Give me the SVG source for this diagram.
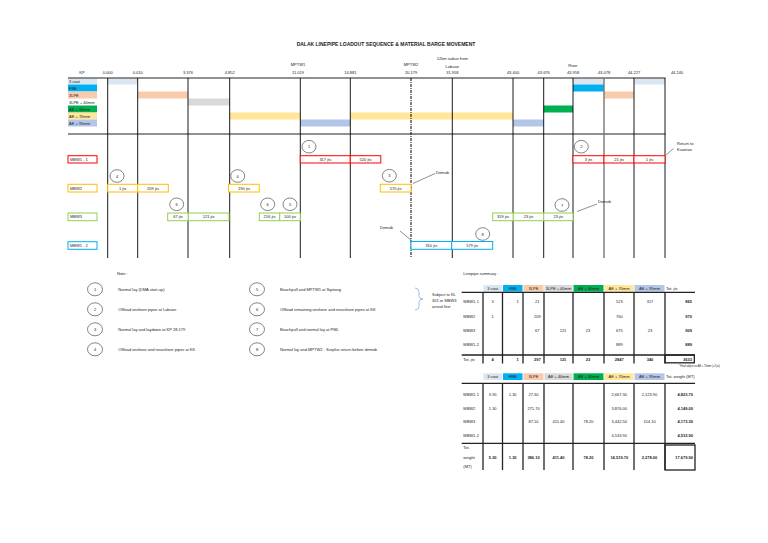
<svg xmlns="http://www.w3.org/2000/svg" width="768" height="543" viewBox="0 0 768 543">
<defs>
<style>
text{font-family:"Liberation Sans",Arial,sans-serif;font-size:4px;fill:#222}
.t{font-size:5px;font-weight:bold;text-anchor:middle}
.c{text-anchor:middle}
.r{text-anchor:end}
.b{font-weight:bold}
.n{font-size:4.2px}
.vl{stroke:#000;stroke-width:0.9}
.hl{stroke:#222;stroke-width:1}
.cir{fill:#fff;stroke:#333;stroke-width:0.6}
.red{fill:#fff;stroke:#ff0000;stroke-width:1}
.yel{fill:#fff;stroke:#ffc000;stroke-width:1}
.grn{fill:#fff;stroke:#92d050;stroke-width:1}
.cya{fill:#fff;stroke:#00b0f0;stroke-width:1}
.ld{stroke:#444;stroke-width:0.6;fill:none}
.tv{stroke:#222;stroke-width:1.3}
.c1{fill:#dce6f1}.c2{fill:#00b0f0}.c3{fill:#f8cbad}.c4{fill:#d9d9d9}.c5{fill:#00b050}.c6{fill:#ffe699}.c7{fill:#b4c6e7}
</style>
</defs>
<rect width="768" height="543" fill="#fff"/>
<text class="t" x="386" y="46">DALAK LINEPIPE LOADOUT SEQUENCE &amp; MATERIAL BARGE MOVEMENT</text>

<g id="header">
<text class="c" x="82" y="74">KP</text>
<text class="c" x="107.7" y="74">0.000</text>
<text class="c" x="137.7" y="74">0.010</text>
<text class="c" x="188" y="74">3.376</text>
<text class="c" x="229.7" y="74">4.852</text>
<text class="c" x="298" y="66">MPTW1</text>
<text class="c" x="298" y="74">11.019</text>
<text class="c" x="350.3" y="74">14.881</text>
<text class="c" x="411" y="66">MPTW2</text>
<text class="c" x="411" y="74">20.179</text>
<text class="c" x="452.3" y="60">12km radius from</text>
<text class="c" x="452.3" y="67.5">Labuan</text>
<text class="c" x="452.3" y="74">31.958</text>
<text class="c" x="513" y="74">43.400</text>
<text class="c" x="543.7" y="74">43.676</text>
<text class="c" x="573" y="66.5">Riser</text>
<text class="c" x="573" y="74">43.958</text>
<text class="c" x="604" y="74">43.078</text>
<text class="c" x="634" y="74">44.227</text>
<text class="c" x="677" y="74">44.240</text>
</g>

<g id="legend">
<rect class="c1" x="68" y="78.5" width="29" height="6"/><text x="69" y="83.2">3 coat</text>
<rect class="c2" x="68" y="84.5" width="29" height="7"/><text x="69" y="89.7">FBE</text>
<rect class="c3" x="68" y="91.5" width="29" height="7"/><text x="69" y="96.7">3LPE</text>
<text x="69" y="103.7">3LPE + 40mm</text>
<rect class="c5" x="68" y="105.5" width="29" height="7"/><text x="69" y="110.7">AE + 60mm</text>
<rect class="c6" x="68" y="112.5" width="29" height="7"/><text x="69" y="117.7">AE + 70mm</text>
<rect class="c7" x="68" y="119.5" width="29" height="7"/><text x="69" y="124.7">AE + 95mm</text>
</g>

<g id="bars">
<rect class="c1" x="107.7" y="78.5" width="30" height="6"/>
<rect class="c3" x="137.7" y="91.5" width="50.3" height="7"/>
<rect class="c4" x="188" y="98.5" width="41.7" height="7"/>
<rect class="c6" x="229.7" y="112.5" width="70.6" height="7"/>
<rect class="c7" x="300.3" y="119.5" width="50" height="7"/>
<rect class="c6" x="350.3" y="112.5" width="162.7" height="7"/>
<rect class="c7" x="513" y="119.5" width="30.7" height="7"/>
<rect class="c5" x="543.7" y="105.5" width="29.3" height="7"/>
<rect class="c1" x="573" y="78.5" width="31" height="6"/>
<rect class="c2" x="573" y="84.5" width="31" height="7"/>
<rect class="c3" x="604" y="91.5" width="30" height="7"/>
<rect class="c1" x="634" y="78.5" width="31" height="6"/>
</g>

<g id="grid">
<line class="hl" x1="68" y1="78" x2="665.5" y2="78"/>
<line class="hl" x1="68" y1="134" x2="665.5" y2="134"/>
<line class="vl" x1="107.7" y1="78" x2="107.7" y2="258"/>
<line class="vl" x1="137.7" y1="78" x2="137.7" y2="258"/>
<line class="vl" x1="188" y1="78" x2="188" y2="258"/>
<line class="vl" x1="229.7" y1="78" x2="229.7" y2="258"/>
<line class="vl" x1="300.3" y1="78" x2="300.3" y2="258"/>
<line class="vl" x1="350.3" y1="78" x2="350.3" y2="258"/>
<line x1="411" y1="78" x2="411" y2="258" stroke="#000" stroke-width="1" stroke-dasharray="3,1,1,1"/>
<line class="vl" x1="452.3" y1="78" x2="452.3" y2="258"/>
<line class="vl" x1="513" y1="78" x2="513" y2="258"/>
<line class="vl" x1="543.7" y1="78" x2="543.7" y2="258"/>
<line class="vl" x1="573" y1="78" x2="573" y2="258"/>
<line x1="604" y1="78" x2="604" y2="258" stroke="#777" stroke-width="1.4"/>
<line class="vl" x1="634" y1="78" x2="634" y2="258"/>
<line class="vl" x1="665" y1="78" x2="665" y2="258"/>
</g>

<g id="connectors">
<polyline class="ld" points="666,155 673.5,148.5"/>
<polyline class="ld" points="413,183.5 435,173.5"/>
<polyline class="ld" points="577,211.5 597,204"/>
<polyline class="ld" points="400,231 411,240"/>
</g>

<g id="row-mbw1-1">
<rect class="red" x="68" y="155.7" width="29" height="7.3"/><text x="70" y="160.8">MBW1 - 1</text>
<rect class="red" x="300.3" y="155.7" width="50" height="7.3"/><text class="c" x="325.3" y="160.8">317 jts</text>
<rect class="red" x="350.3" y="155.7" width="30.5" height="7.3"/><text class="c" x="365.5" y="160.8">520 jts</text>
<rect class="red" x="573" y="155.7" width="31" height="7.3"/><text class="c" x="588.5" y="160.8">3 jts</text>
<rect class="red" x="604" y="155.7" width="30" height="7.3"/><text class="c" x="619" y="160.8">21 jts</text>
<rect class="red" x="634" y="155.7" width="31" height="7.3"/><text class="c" x="649.5" y="160.8">1 jts</text>
<text x="677" y="144.5">Return to</text>
<text x="677" y="150.5">Kuantan</text>
</g>

<g id="row-mbw2">
<rect class="yel" x="68" y="184.3" width="29" height="7.7"/><text x="70" y="189.6">MBW2</text>
<rect class="yel" x="107.7" y="184.3" width="30" height="7.7"/><text class="c" x="122.7" y="189.6">1 jts</text>
<rect class="yel" x="137.7" y="184.3" width="30.6" height="7.7"/><text class="c" x="153" y="189.6">209 jts</text>
<rect class="yel" x="228.5" y="184.3" width="30.8" height="7.7"/><text class="c" x="244" y="189.6">190 jts</text>
<rect class="yel" x="380.3" y="184.3" width="30.7" height="7.7"/><text class="c" x="395.6" y="189.6">570 jts</text>
<text x="436" y="173.5">Demob</text>
</g>

<g id="row-mbw3">
<rect class="grn" x="68" y="213" width="29" height="7.7"/><text x="70" y="218.3">MBW3</text>
<rect class="grn" x="167.7" y="213" width="20.6" height="7.7"/><text class="c" x="178" y="218.3">67 jts</text>
<rect class="grn" x="188.3" y="213" width="40.7" height="7.7"/><text class="c" x="208.6" y="218.3">121 jts</text>
<rect class="grn" x="259.3" y="213" width="20.4" height="7.7"/><text class="c" x="269.5" y="218.3">216 jts</text>
<rect class="grn" x="279.7" y="213" width="20.6" height="7.7"/><text class="c" x="290" y="218.3">100 jts</text>
<rect class="grn" x="492.7" y="213" width="20.6" height="7.7"/><text class="c" x="503" y="218.3">359 jts</text>
<rect class="grn" x="513.3" y="213" width="30.4" height="7.7"/><text class="c" x="528.5" y="218.3">23 jts</text>
<rect class="grn" x="543.7" y="213" width="29.3" height="7.7"/><text class="c" x="558.3" y="218.3">23 jts</text>
<text x="598" y="202.5">Demob</text>
</g>

<g id="row-mbw1-2">
<rect class="cya" x="68" y="241.7" width="29" height="7.6"/><text x="70" y="247">MBW1 - 2</text>
<rect class="cya" x="411" y="241.5" width="40.7" height="7.8"/><text class="c" x="431.3" y="246.8">310 jts</text>
<rect class="cya" x="451.7" y="241.5" width="41" height="7.8"/><text class="c" x="472.2" y="246.8">579 jts</text>
<text x="380" y="229">Demob</text>
</g>

<g id="step-circles">
<ellipse class="cir" cx="309" cy="146.7" rx="7" ry="6.3"/><text class="c" x="309" y="148.2">1</text>
<ellipse class="cir" cx="581.3" cy="146.7" rx="7" ry="6.3"/><text class="c" x="581.3" y="148.2">2</text>
<ellipse class="cir" cx="117" cy="176" rx="7" ry="6.3"/><text class="c" x="117" y="177.5">4</text>
<ellipse class="cir" cx="237.7" cy="176" rx="7" ry="6.3"/><text class="c" x="237.7" y="177.5">4</text>
<ellipse class="cir" cx="389.3" cy="175.7" rx="7" ry="6.3"/><text class="c" x="389.3" y="177.2">3</text>
<ellipse class="cir" cx="176.7" cy="204.3" rx="7" ry="6.3"/><text class="c" x="176.7" y="205.8">6</text>
<ellipse class="cir" cx="267.7" cy="204.3" rx="7" ry="6.3"/><text class="c" x="267.7" y="205.8">6</text>
<ellipse class="cir" cx="290" cy="204.3" rx="7" ry="6.3"/><text class="c" x="290" y="205.8">5</text>
<ellipse class="cir" cx="562" cy="205" rx="7" ry="6.3"/><text class="c" x="562" y="206.5">7</text>
<ellipse class="cir" cx="482.7" cy="234" rx="7" ry="6.3"/><text class="c" x="482.7" y="235.5">8</text>
</g>

<g id="notes">
<text x="117" y="274.5">Note :</text>
<ellipse class="cir" cx="95" cy="289.3" rx="7.5" ry="6.5"/><text class="c" x="95" y="290.8">1</text>
<text x="118.3" y="290.8">Normal lay (DMA start-up)</text>
<ellipse class="cir" cx="95" cy="309.3" rx="7.5" ry="6.5"/><text class="c" x="95" y="310.8">2</text>
<text x="118.3" y="310.8">Offload onshore pipes at Labuan</text>
<ellipse class="cir" cx="95" cy="329.3" rx="7.5" ry="6.5"/><text class="c" x="95" y="330.8">3</text>
<text x="118.3" y="330.8">Normal lay and laydown at KP 28.179</text>
<ellipse class="cir" cx="95" cy="349.3" rx="7.5" ry="6.5"/><text class="c" x="95" y="350.8">4</text>
<text x="118.3" y="350.8">Offload onshore and nearshore pipes at KK</text>
<ellipse class="cir" cx="257" cy="289.3" rx="7.5" ry="6.5"/><text class="c" x="257" y="290.8">5</text>
<text x="280" y="290.8">Beachpull and MPTW1 at Sipitang</text>
<ellipse class="cir" cx="257" cy="309.3" rx="7.5" ry="6.5"/><text class="c" x="257" y="310.8">6</text>
<text x="280" y="310.8">Offload remaining onshore and nearshore pipes at KK</text>
<ellipse class="cir" cx="257" cy="329.3" rx="7.5" ry="6.5"/><text class="c" x="257" y="330.8">7</text>
<text x="280" y="330.8">Beachpull and normal lay at PML</text>
<ellipse class="cir" cx="257" cy="349.3" rx="7.5" ry="6.5"/><text class="c" x="257" y="350.8">8</text>
<text x="280" y="350.8">Normal lay and MPTW2 - Surplus return before demob</text>
<path d="M415,288 Q419,288 419,292 L419,296 Q419,299 423,299 Q419,299 419,302 L419,306 Q419,310 415,310" fill="none" stroke="#5b9bd5" stroke-width="0.6"/>
<text x="432" y="295.5">Subject to KL</text>
<text x="432" y="301.5">301 or MBW3</text>
<text x="432" y="307.5">arrival first</text>
</g>

<g id="table-joints">
<text x="463.3" y="275">Linepipe summary :</text>
<rect class="c1" x="483.5" y="285" width="18.5" height="6.7"/><text class="c" x="492.7" y="289.8">3 coat</text>
<rect class="c2" x="503" y="285" width="19.5" height="6.7"/><text class="c" x="512.7" y="289.8">FBE</text>
<rect class="c3" x="523.5" y="285" width="20" height="6.7"/><text class="c" x="533.5" y="289.8">3LPE</text>
<rect class="c4" x="544.5" y="285" width="28" height="6.7"/><text class="c" x="558.5" y="289.8">3LPE + 40mm</text>
<rect class="c5" x="573.5" y="285" width="30" height="6.7"/><text class="c" x="588.5" y="289.8">AE + 60mm</text>
<rect class="c6" x="604.5" y="285" width="29" height="6.7"/><text class="c" x="619" y="289.8">AE + 70mm</text>
<rect class="c7" x="634.5" y="285" width="30" height="6.7"/><text class="c" x="649.5" y="289.8">AE + 95mm</text>
<text x="666" y="289.8">Tot. jts</text>
<line class="tv" x1="461.7" y1="292.3" x2="695" y2="292.3"/>
<line class="tv" x1="461.7" y1="355" x2="695" y2="355"/>
<g class="tv">
<line x1="483" y1="292" x2="483" y2="363.5"/>
<line x1="502.5" y1="292" x2="502.5" y2="363.5"/>
<line x1="523" y1="292" x2="523" y2="363.5"/>
<line x1="544" y1="292" x2="544" y2="363.5"/>
<line x1="573" y1="292" x2="573" y2="363.5"/>
<line x1="604" y1="292" x2="604" y2="363.5"/>
<line x1="634" y1="292" x2="634" y2="363.5"/>
<line x1="665" y1="292" x2="665" y2="363.5"/>
</g>
<rect x="665" y="355" width="29.3" height="7.8" fill="none" stroke="#222" stroke-width="1.3"/>
<text x="463.3" y="303">MBW1-1</text>
<text class="c" x="492.7" y="303">3</text><text class="c" x="517.7" y="303">1</text><text class="c" x="537.3" y="303">21</text><text class="c" x="619.3" y="303">523</text><text class="c" x="650" y="303">317</text><text class="r b" x="692" y="303">865</text>
<text x="463.3" y="318">MBW2</text>
<text class="c" x="492.7" y="318">1</text><text class="c" x="537.3" y="318">209</text><text class="c" x="619.3" y="318">760</text><text class="r b" x="692" y="318">970</text>
<text x="463.3" y="332">MBW3</text>
<text class="c" x="537.3" y="332">67</text><text class="c" x="563" y="332">121</text><text class="c" x="588" y="332">23</text><text class="c" x="619.3" y="332">675</text><text class="c" x="650" y="332">23</text><text class="r b" x="692" y="332">909</text>
<text x="463.3" y="346.3">MBW1-2</text>
<text class="c" x="619.3" y="346.3">889</text><text class="r b" x="692" y="346.3">889</text>
<text x="463.3" y="360.5">Tot. jts</text>
<text class="c b" x="492.7" y="360.5">4</text><text class="c b" x="517.7" y="360.5">1</text><text class="c b" x="537.3" y="360.5">297</text><text class="c b" x="563" y="360.5">121</text><text class="c b" x="588" y="360.5">23</text><text class="c b" x="619.3" y="360.5">2847</text><text class="c b" x="650" y="360.5">340</text><text class="r b" x="692" y="360.5">3633</text>
<text class="r" x="720" y="367" style="font-size:2.6px">* Final adjust on AE + 70mm (+3 jts)</text>
</g>

<g id="table-weight">
<rect class="c1" x="483.5" y="373.3" width="18.5" height="6.7"/><text class="c" x="492.7" y="378.1">3 coat</text>
<rect class="c2" x="503" y="373.3" width="19.5" height="6.7"/><text class="c" x="512.7" y="378.1">FBE</text>
<rect class="c3" x="523.5" y="373.3" width="20" height="6.7"/><text class="c" x="533.5" y="378.1">3LPE</text>
<rect class="c4" x="544.5" y="373.3" width="28" height="6.7"/><text class="c" x="558.5" y="378.1">AE + 40mm</text>
<rect class="c5" x="573.5" y="373.3" width="30" height="6.7"/><text class="c" x="588.5" y="378.1">AE + 60mm</text>
<rect class="c6" x="604.5" y="373.3" width="29" height="6.7"/><text class="c" x="619" y="378.1">AE + 70mm</text>
<rect class="c7" x="634.5" y="373.3" width="30" height="6.7"/><text class="c" x="649.5" y="378.1">AE + 95mm</text>
<text x="666" y="378.1">Tot. weight (MT)</text>
<line class="tv" x1="461.7" y1="383.3" x2="695" y2="383.3"/>
<line class="tv" x1="461.7" y1="443.3" x2="695" y2="443.3"/>
<g class="tv">
<line x1="483" y1="383" x2="483" y2="470"/>
<line x1="502.5" y1="383" x2="502.5" y2="470"/>
<line x1="523" y1="383" x2="523" y2="470"/>
<line x1="544" y1="383" x2="544" y2="470"/>
<line x1="573" y1="383" x2="573" y2="470"/>
<line x1="604" y1="383" x2="604" y2="470"/>
<line x1="634" y1="383" x2="634" y2="470"/>
<line x1="665" y1="383" x2="665" y2="470"/>
</g>
<rect x="665" y="445" width="30" height="25" fill="none" stroke="#222" stroke-width="1.3"/>
<text x="463.3" y="395.5">MBW1-1</text>
<text class="c" x="492.7" y="395.5">3.90</text><text class="c" x="512.7" y="395.5">1.30</text><text class="c" x="533.5" y="395.5">27.30</text><text class="c" x="619.3" y="395.5">2,667.30</text><text class="c" x="649.5" y="395.5">2,123.90</text><text class="r b" x="693" y="395.5">4,823.70</text>
<text x="463.3" y="409.8">MBW2</text>
<text class="c" x="492.7" y="409.8">1.30</text><text class="c" x="533.5" y="409.8">271.70</text><text class="c" x="619.3" y="409.8">3,876.00</text><text class="r b" x="693" y="409.8">4,149.00</text>
<text x="463.3" y="423.2">MBW3</text>
<text class="c" x="533.5" y="423.2">87.10</text><text class="c" x="558.5" y="423.2">411.40</text><text class="c" x="588.5" y="423.2">78.20</text><text class="c" x="619.3" y="423.2">3,442.50</text><text class="c" x="649.5" y="423.2">154.10</text><text class="r b" x="693" y="423.2">4,173.30</text>
<text x="463.3" y="437.2">MBW1-2</text>
<text class="c" x="619.3" y="437.2">4,533.90</text><text class="r b" x="693" y="437.2">4,533.90</text>
<text x="463.3" y="449">Tot.</text>
<text x="463.3" y="458.5">weight</text>
<text x="463.3" y="467.5">(MT)</text>
<text class="c b" x="492.7" y="459">5.20</text><text class="c b" x="512.7" y="459">1.30</text><text class="c b" x="533.5" y="459">386.10</text><text class="c b" x="558.5" y="459">411.40</text><text class="c b" x="588.5" y="459">78.20</text><text class="c b" x="619.3" y="459">14,519.70</text><text class="c b" x="649.5" y="459">2,278.00</text><text class="r b" x="693" y="459">17,679.90</text>
</g>
</svg>
